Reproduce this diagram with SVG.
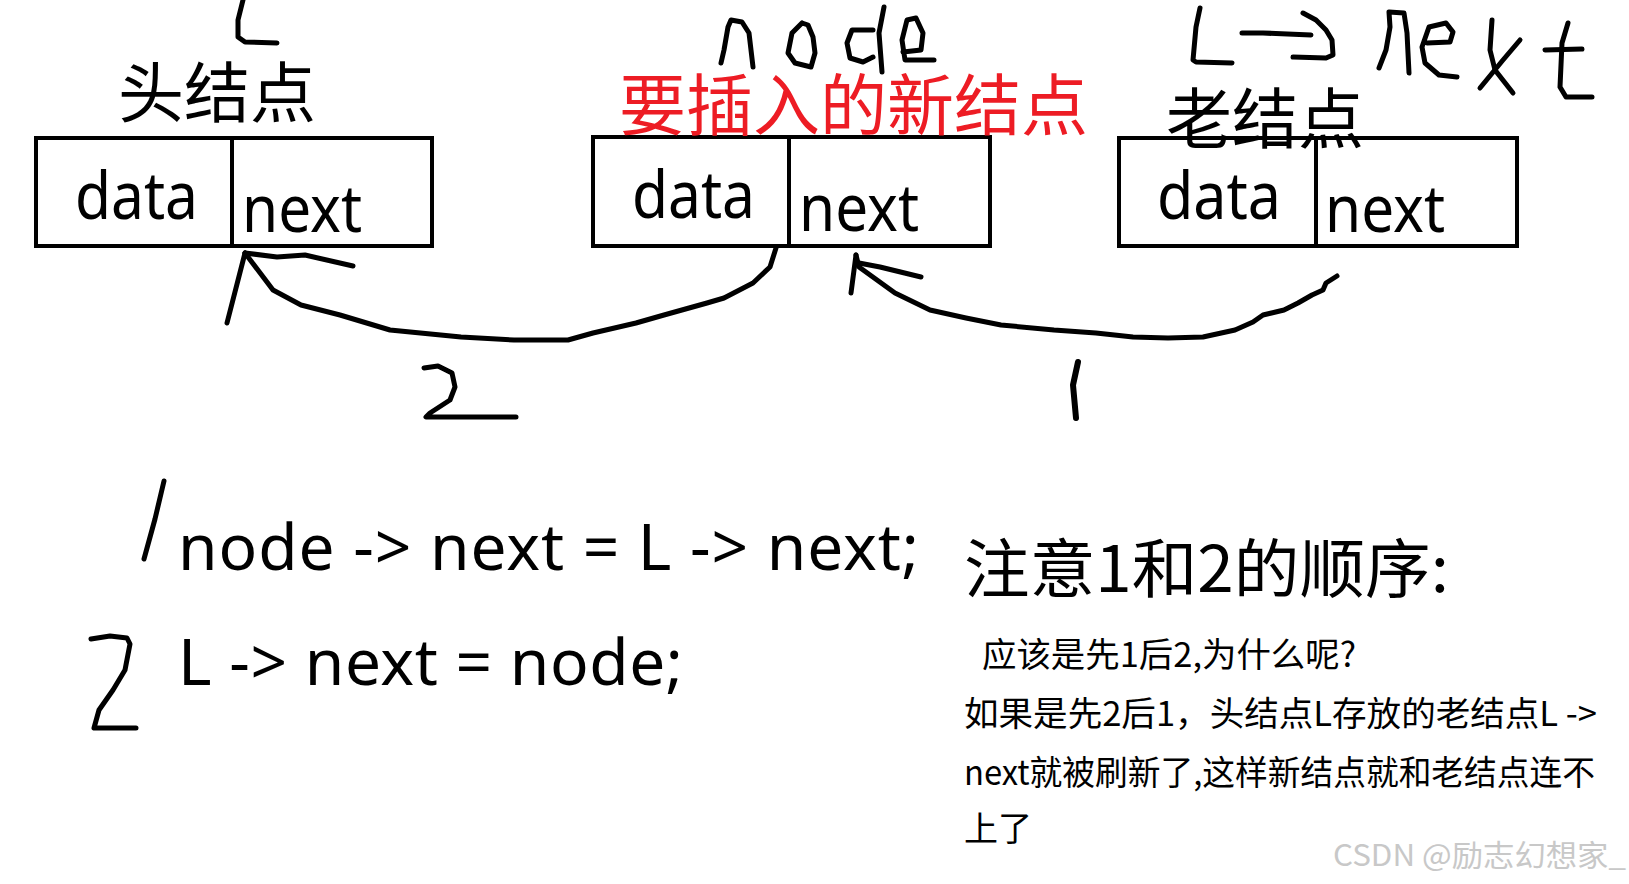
<svg xmlns="http://www.w3.org/2000/svg" width="1629" height="884" viewBox="0 0 1629 884">
<style>
.box{fill:none;stroke:#000;stroke-width:4}
.cell{font-family:"Noto Sans","Liberation Sans",sans-serif;font-size:66px;fill:#000}
.lbl{font-family:"Noto Sans CJK SC","Noto Sans",sans-serif;font-size:66px;fill:#000}
.red{fill:#ed1c24}
.hand{fill:none;stroke:#000;stroke-width:5;stroke-linecap:round;stroke-linejoin:round}
.code{font-family:"Noto Sans","Liberation Sans",sans-serif;font-size:64px;fill:#000}
.note{font-family:"Noto Sans CJK SC","Noto Sans",sans-serif;font-size:34px;fill:#000}
.wm{font-family:"Noto Sans CJK SC","Liberation Sans",sans-serif;font-size:30px;fill:#c8c8c8}
</style>
<rect width="1629" height="884" fill="#fff"/>
<g id="node-head">
<rect class="box" x="36" y="138" width="396" height="108"/>
<line class="box" x1="232" y1="138" x2="232" y2="246"/>
<text class="cell" x="75" y="219" textLength="123" lengthAdjust="spacingAndGlyphs">data</text>
<text class="cell" x="242" y="232" textLength="120" lengthAdjust="spacingAndGlyphs">next</text>
<text class="lbl" x="118" y="117">头结点</text>
<polyline class="hand" points="243,0 238,20 238,37 245,42 277,43"/>
</g>
<g id="node-new">
<rect class="box" x="593" y="137" width="397" height="109"/>
<line class="box" x1="789" y1="137" x2="789" y2="246"/>
<text class="cell" x="632" y="218" textLength="123" lengthAdjust="spacingAndGlyphs">data</text>
<text class="cell" x="799" y="231" textLength="120" lengthAdjust="spacingAndGlyphs">next</text>
<text class="lbl red" x="619" y="130" style="font-size:67px">要插入的新结点</text>
<polyline class="hand" points="721,63 724,50 728,27 731,20 742,22 749,33 753,67"/>
<polyline class="hand" points="802,23 792,33 788,53 795,63 811,67 815,53 813,37 808,25 802,23"/>
<polyline class="hand" points="873,30 852,30 847,43 850,58 863,62 873,57"/>
<polyline class="hand" points="884,7 879,33 882,72"/>
<polyline class="hand" points="903,52 921,50 923,33 916,18 907,20 902,40 905,60 934,60"/>
</g>
<g id="node-old">
<rect class="box" x="1119" y="138" width="398" height="108"/>
<line class="box" x1="1316" y1="138" x2="1316" y2="246"/>
<text class="cell" x="1157" y="219" textLength="124" lengthAdjust="spacingAndGlyphs">data</text>
<text class="cell" x="1325" y="232" textLength="120" lengthAdjust="spacingAndGlyphs">next</text>
<text class="lbl" x="1166" y="143">老结点</text>
<polyline class="hand" points="1200,8 1196,27 1193,60 1196,62 1232,63"/>
<polyline class="hand" points="1242,33 1263,33 1311,35"/>
<polyline class="hand" points="1303,13 1316,20 1326,30 1332,40 1333,55 1326,58 1293,57"/>
<polyline class="hand" points="1379,68 1386,50 1390,27 1389,12 1404,13 1407,33 1409,73"/>
<polyline class="hand" points="1427,43 1450,42 1453,32 1446,23 1429,27 1422,47 1425,63 1439,75 1457,77"/>
<polyline class="hand" points="1492,20 1490,50 1495,70 1513,93"/>
<polyline class="hand" points="1520,40 1503,60 1480,88"/>
<polyline class="hand" points="1568,23 1562,43 1560,87 1566,97 1592,97"/>
<polyline class="hand" points="1545,50 1582,49"/>
</g>
<g id="connectors">
<polyline class="hand" points="776,248 770,267 753,283 724,298 707,303 664,315 636,323 593,333 568,340 540,340 514,340 461,337 390,330 340,315 301,305 273,290 245,253"/>
<polyline class="hand" points="245,253 227,323"/>
<polyline class="hand" points="245,253 277,257 305,255 353,266"/>
<polyline class="hand" points="1337,276 1326,283 1323,290 1312,295 1298,303 1284,310 1263,315 1253,322 1235,330 1203,337 1168,338 1133,337 1096,333 1054,330 1001,325 966,318 930,310 895,293 859,267 856,255"/>
<polyline class="hand" points="856,255 851,293"/>
<polyline class="hand" points="859,263 880,267 921,277"/>
</g>
<g id="step-labels">
<polyline class="hand" points="424,368 438,366 452,373 455,387 450,400 430,413 426,417 516,417"/>
<path class="hand" d="M1078,362 L1073,385 L1076,418" style="stroke-width:6"/>
<polyline class="hand" points="164,481 155,519 144,559"/>
<polyline class="hand" points="91,639 110,636 127,638 130,644 125,670 113,690 99,710 94,728 136,728"/>
</g>
<g id="code">
<text class="code" x="178" y="570" textLength="741" lengthAdjust="spacing">node -&gt; next = L -&gt; next;</text>
<text class="code" x="178" y="685" textLength="505" lengthAdjust="spacing">L -&gt; next = node;</text>
</g>
<g id="note">
<text class="lbl" x="964" y="592" style="font-size:64px" textLength="485" lengthAdjust="spacingAndGlyphs">注意1和2的顺序:</text>
<text class="note" x="982" y="667" textLength="374" lengthAdjust="spacingAndGlyphs">应该是先1后2,为什么呢?</text>
<text class="note" x="964" y="726" textLength="633" lengthAdjust="spacingAndGlyphs">如果是先2后1，头结点L存放的老结点L -&gt;</text>
<text class="note" x="964" y="785" textLength="631" lengthAdjust="spacingAndGlyphs">next就被刷新了,这样新结点就和老结点连不</text>
<text class="note" x="964" y="841">上了</text>
<text class="wm" x="1333" y="866" textLength="293" lengthAdjust="spacingAndGlyphs">CSDN @励志幻想家_</text>
</g>
</svg>
